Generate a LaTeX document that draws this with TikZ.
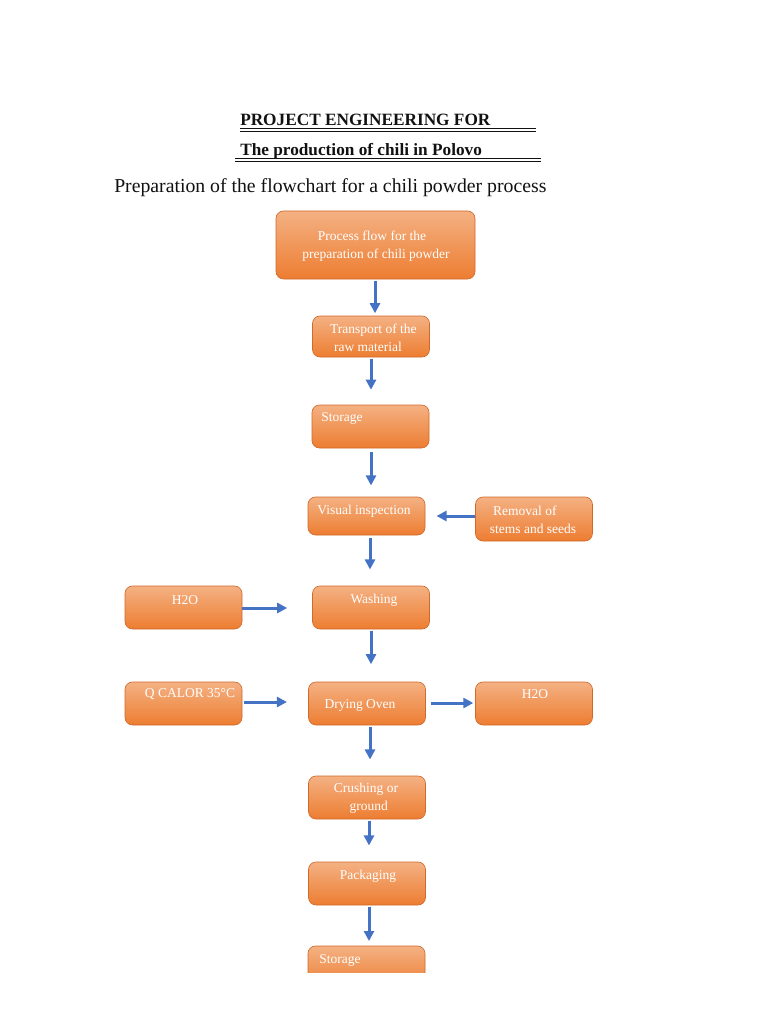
\documentclass[tikz,border=0pt]{standalone}
\usepackage{fontspec}
\setmainfont{Liberation Serif}
\usetikzlibrary{arrows.meta}
\definecolor{bg}{HTML}{FFFFFF}
\definecolor{boxtop}{HTML}{F4B183}
\definecolor{boxbottom}{HTML}{ED7D31}
\definecolor{boxedge}{HTML}{D0692A}
\definecolor{flow}{HTML}{4472C4}
\definecolor{ink}{HTML}{111111}

\begin{document}
\begin{tikzpicture}[x=0.8pt,y=-0.8pt,line cap=butt,line join=round,
  stepbox/.style={draw=boxedge,line width=0.5pt,rounded corners=6pt,
    top color=boxtop,bottom color=boxbottom,
    minimum width=93.6pt,minimum height=34.4pt,inner sep=0pt},
  boxtext/.style={text=white,font=\fontsize{10.8}{14.4}\selectfont,inner sep=0pt,align=center},
  flowarrow/.style={-{Triangle[length=8pt,width=8pt]},line width=2.4pt,flow}]
  \useasboundingbox (0,0) rectangle (768,1024);
  \fill[bg] (0,0) rectangle (768,1024);

  % ---- headings ----
  \node[font=\bfseries\fontsize{13.8}{16}\selectfont,text=ink,anchor=base west,inner sep=0pt] (head1) at (240,126) {PROJECT ENGINEERING FOR};
  \draw[ink,line width=1.2pt] (240,128.5) -- (536,128.5);
  \draw[ink,line width=0.5pt] (240,131.5) -- (536,131.5);
  \node[font=\bfseries\fontsize{13.8}{16}\selectfont,text=ink,anchor=base west,inner sep=0pt] (head2) at (240,156) {The production of chili in Polovo};
  \draw[ink,line width=1.2pt] (235,158.5) -- (541,158.5);
  \draw[ink,line width=0.5pt] (235,161.5) -- (541,161.5);
  \node[font=\fontsize{15.8}{18}\selectfont,text=ink,anchor=base west,inner sep=0pt] (title) at (114,193) {Preparation of the flowchart for a chili powder process};

  % ---- main column ----
  \node[stepbox,minimum width=159.2pt,minimum height=54.4pt] (flowbox) at (375.5,245) {};
  \node[boxtext] (flowtext) at (372,246) {Process flow for the\\\hspace*{0.6em}preparation of chili powder};
  \node[stepbox,minimum height=32.8pt] (transport) at (371,336.5) {};
  \node[boxtext] (transporttext) at (368,337.5) {\hspace*{0.8em}Transport of the\\raw material};
  \node[stepbox] (storage) at (370.5,426.5) {};
  \node[boxtext,anchor=west] (storagetext) at (321,418) {Storage};
  \node[stepbox,minimum height=30.4pt] (inspect) at (366.5,516) {};
  \node[boxtext] (inspecttext) at (364,511) {Visual inspection};
  \node[stepbox] (washing) at (371,607.5) {};
  \node[boxtext] (washingtext) at (374,600) {Washing};
  \node[stepbox] (oven) at (367,703.5) {};
  \node[boxtext] (oventext) at (360,705) {Drying Oven};
  \node[stepbox] (crush) at (367,797.5) {};
  \node[boxtext] (crushtext) at (366,798.5) {Crushing or\\\hspace*{0.4em}ground};
  \node[stepbox] (pack) at (367,883.5) {};
  \node[boxtext] (packtext) at (368,876) {Packaging};
  % last box runs off the page
  \begin{scope}
    \clip (0,0) rectangle (768,972);
    \node[stepbox] (store) at (366.5,967.5) {};
  \end{scope}
  \node[boxtext,anchor=west] (storetext) at (319,960) {Storage};

  % ---- side boxes ----
  \node[stepbox,minimum height=35.2pt] (removal) at (534,519) {};
  \node[boxtext] (removaltext) at (533,519.5) {Removal of\hspace*{1.2em}\\stems and seeds};
  \node[stepbox] (water) at (183.5,607.5) {};
  \node[boxtext] (watertext) at (185,600) {H2O};
  \node[stepbox] (heat) at (183.5,703.5) {};
  \node[boxtext] (heattext) at (190,694) {Q CALOR 35°C};
  \node[stepbox] (vapour) at (534,703.5) {};
  \node[boxtext] (vapourtext) at (535,694) {H2O};

  % ---- arrows ----
  \draw[flowarrow,shorten <=1pt,shorten >=2pt] (flowbox.south -| 375,0) -- (transport.north -| 375,0);
  \draw[flowarrow,shorten <=1pt,shorten >=12pt] (transport.south) -- (storage.north -| transport.south);
  \draw[flowarrow,shorten <=3pt,shorten >=9pt] (storage.south -| transport.south) -- (inspect.north -| transport.south);
  \draw[flowarrow,shorten >=9pt] (removal.west |- 0,516) -- (inspect.east |- 0,516);
  \draw[flowarrow,shorten <=2pt,shorten >=13pt] (inspect.south -| 370,0) -- (washing.north -| 370,0);
  \draw[flowarrow,shorten >=20pt] (water.east |- 0,608) -- (washing.west |- 0,608);
  \draw[flowarrow,shorten <=1pt,shorten >=14pt] (washing.south) -- (oven.north -| washing.south);
  \draw[flowarrow,shorten <=1pt,shorten >=17pt] (heat.east |- 0,702) -- (oven.west |- 0,702);
  \draw[flowarrow,shorten <=4pt,shorten >=1.5pt] (oven.east |- 0,703) -- (vapour.west |- 0,703);
  \draw[flowarrow,shorten <=1pt,shorten >=13pt] (oven.south -| 370,0) -- (crush.north -| 370,0);
  \draw[flowarrow,shorten <=1pt,shorten >=13pt] (crush.south -| 369,0) -- (pack.north -| 369,0);
  \draw[flowarrow,shorten <=1pt,shorten >=4pt] (pack.south -| 369,0) -- (369,946);
\end{tikzpicture}
\end{document}
